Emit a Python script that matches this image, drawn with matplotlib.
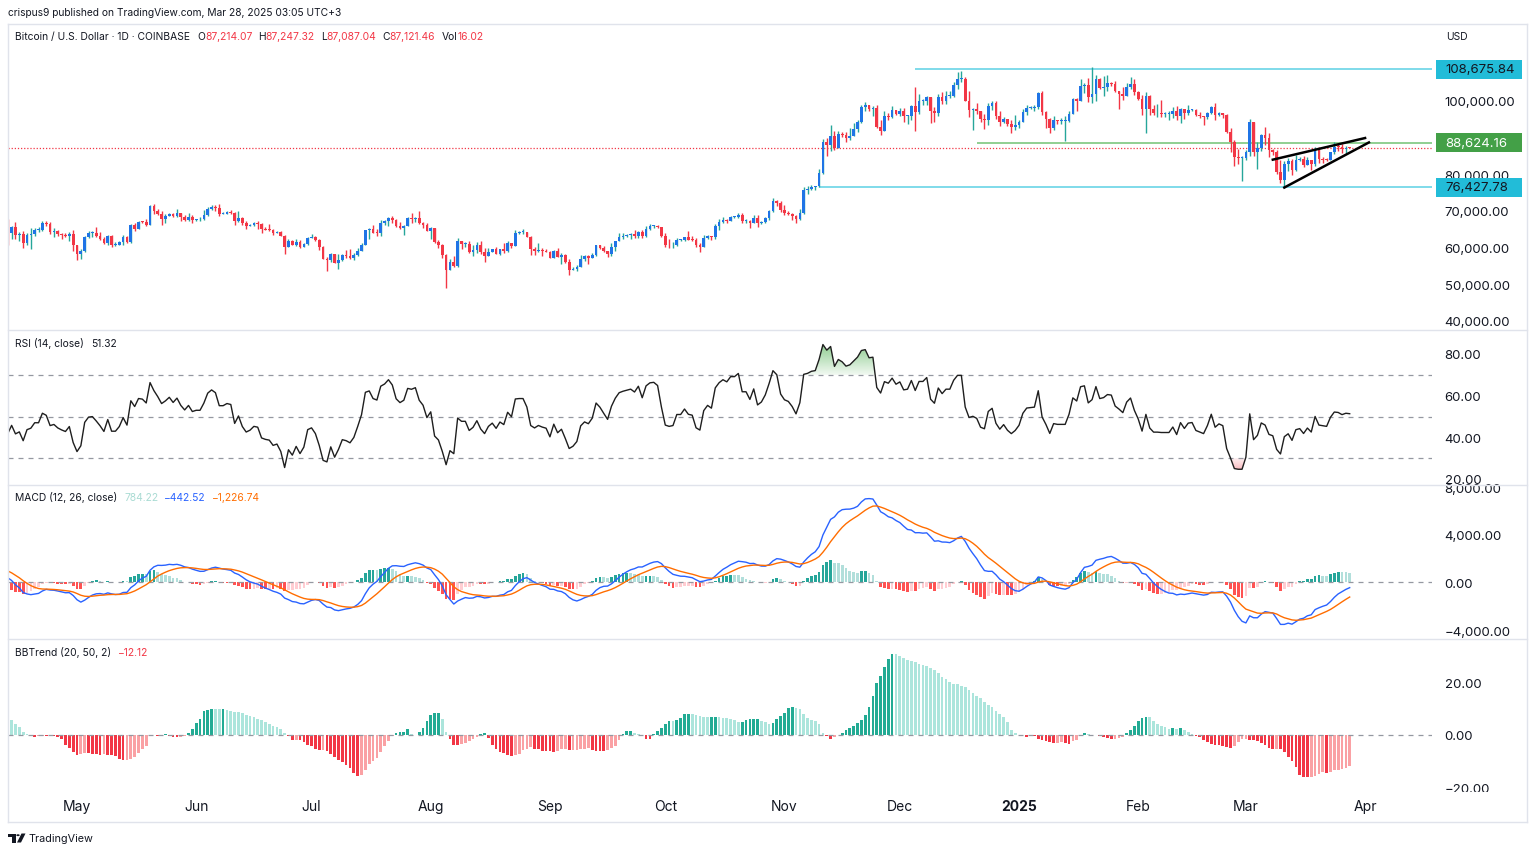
import numpy as np
import pandas as pd
import matplotlib
matplotlib.use("Agg")
import matplotlib.pyplot as plt
from matplotlib import transforms
from matplotlib.patches import Rectangle, Circle, Polygon
from matplotlib.lines import Line2D
from matplotlib.ticker import FuncFormatter
from matplotlib.colors import LinearSegmentedColormap

plt.rcParams['font.family'] = ['Inter', 'DejaVu Sans']

# ---------------- data (thousands of USD) ----------------
# closes 2024-02-20 .. 2024-04-12, only used to warm up the indicators
warmup_close = [52.3, 51.9, 51.3, 50.7, 51.6, 51.7, 54.5, 57.1, 62.5, 61.2,
                62.4, 62.0, 63.1, 68.3, 63.8, 66.1, 66.9, 68.3, 68.5, 69.0, 72.1, 71.5, 73.1, 71.4, 69.5, 65.3,
                68.4, 67.6, 62.0, 67.9, 65.5, 63.8, 64.0, 67.2, 69.9, 69.9, 69.4, 70.7, 69.9, 69.6, 71.3,
                69.7, 65.5, 65.9, 68.5, 67.8, 68.9, 69.4, 71.6, 69.1, 70.6, 70.0, 67.1]

# daily candles 2024-04-13 .. 2025-03-28 (open = previous close)
close_k = [
    # Apr 13-30
    64.0, 65.7, 63.4, 63.8, 61.3, 63.5, 63.8, 64.9, 64.9, 66.8, 66.4, 64.3, 64.5, 63.8, 63.4, 63.1, 63.8, 60.6,
    # May
    58.3, 59.1, 62.9, 63.9, 64.0, 63.2, 62.3, 61.2, 63.1, 60.8, 60.8, 61.5, 62.9, 61.6, 66.2, 65.2, 67.0, 66.9,
    66.3, 71.4, 70.1, 69.1, 67.9, 68.5, 69.3, 68.5, 69.4, 68.3, 67.6, 68.4, 67.5,
    # Jun
    67.7, 67.7, 68.8, 70.5, 71.1, 70.8, 69.3, 69.3, 69.6, 69.5, 67.3, 68.2, 66.8, 66.0, 66.2, 66.6, 66.5, 65.1,
    64.9, 64.8, 64.1, 64.2, 63.2, 60.3, 61.8, 60.8, 61.6, 60.3, 60.9, 62.7,
    # Jul
    62.9, 62.1, 60.2, 57.0, 56.6, 58.2, 55.8, 56.7, 57.9, 57.7, 57.3, 57.9, 59.2, 60.8, 64.8, 65.1, 64.1, 63.9,
    66.7, 67.2, 68.2, 67.6, 65.9, 65.4, 65.8, 68.0, 67.9, 68.2, 66.8, 66.2, 64.6,
    # Aug
    65.4, 61.5, 60.7, 58.1, 54.0, 56.0, 55.1, 61.7, 60.9, 60.9, 58.7, 59.3, 60.6, 58.7, 57.6, 58.9, 59.5, 58.4,
    59.5, 59.0, 61.2, 60.4, 64.1, 64.2, 64.2, 62.9, 59.5, 59.0, 59.4, 59.1, 58.9,
    # Sep
    57.3, 59.1, 57.5, 58.0, 56.2, 53.9, 54.2, 54.8, 57.0, 57.6, 57.3, 58.1, 60.6, 60.0, 59.1, 58.2, 60.3, 61.8,
    62.9, 63.2, 63.4, 63.6, 63.3, 64.3, 63.1, 65.2, 65.8, 65.9, 65.6, 63.3,
    # Oct
    60.8, 60.6, 60.7, 62.1, 62.1, 62.8, 62.2, 62.1, 60.6, 60.3, 62.5, 63.2, 62.9, 66.0, 67.0, 67.6, 67.4, 68.4,
    68.4, 69.0, 67.4, 67.4, 66.7, 68.2, 66.6, 67.0, 68.0, 69.9, 72.7, 72.3, 70.2,
    # Nov
    69.5, 69.3, 68.7, 67.8, 69.4, 75.6, 75.9, 76.5, 76.7, 80.4, 88.7, 87.9, 90.4, 87.3, 91.0, 90.6, 89.9, 90.5,
    92.3, 94.3, 98.3, 98.9, 97.7, 98.0, 93.0, 91.9, 95.9, 95.6, 97.5, 96.4,
    # Dec
    97.2, 95.8, 96.0, 98.7, 97.0, 99.9, 99.9, 101.2, 97.4, 96.6, 101.1, 100.0, 101.4, 101.4, 104.3, 106.1,
    106.1, 100.1, 97.5, 97.8, 97.3, 95.1, 94.7, 98.6, 99.4, 95.8, 94.2, 95.2, 93.7, 92.8, 93.4,
    # Jan 2025
    94.4, 96.9, 98.1, 98.2, 98.3, 102.2, 96.9, 95.0, 92.5, 94.7, 94.5, 94.5, 94.5, 96.5, 100.5, 99.9, 104.1,
    104.4, 101.1, 102.0, 106.1, 103.6, 103.9, 104.8, 104.7, 102.6, 102.0, 101.3, 103.7, 104.7, 102.4,
    # Feb
    100.6, 97.7, 101.4, 97.8, 96.6, 96.6, 96.5, 96.5, 96.5, 97.4, 95.8, 97.8, 96.6, 97.5, 97.6, 96.1, 95.8,
    95.5, 96.6, 98.3, 96.1, 96.6, 96.3, 91.5, 88.7, 84.7, 84.4, 84.4,
    # Mar
    86.0, 94.3, 86.1, 87.2, 90.6, 89.9, 86.7, 86.2, 80.7, 78.5, 82.9, 83.7, 81.1, 84.0, 84.3, 82.6, 84.0,
    82.7, 86.9, 84.2, 84.0, 83.8, 86.1, 87.5, 87.4, 86.9, 87.214, 87.121,
]
high_k = [
    67.9, 65.8, 66.9, 64.4, 64.5, 64.0, 65.4, 65.4, 65.7, 67.2, 67.2, 67.1, 65.3, 64.8, 63.9, 64.0, 64.2, 64.7,
    60.8, 59.6, 63.3, 64.5, 64.5, 65.5, 64.4, 62.9, 63.4, 63.5, 61.5, 61.8, 63.4, 63.1, 66.4, 66.7, 67.4, 67.4,
    67.7, 71.5, 71.9, 70.6, 70.0, 69.2, 69.5, 69.5, 70.6, 69.5, 68.9, 69.5, 69.0,
    67.8, 68.4, 70.2, 71.0, 71.7, 71.6, 71.9, 69.6, 69.9, 70.2, 69.6, 70.0, 68.4, 67.3, 66.4, 66.9, 67.2, 66.6,
    65.7, 66.5, 65.0, 64.5, 64.5, 63.4, 62.4, 62.1, 62.3, 62.2, 61.2, 63.0,
    63.8, 63.2, 62.3, 60.5, 57.5, 58.5, 58.3, 58.2, 58.3, 59.4, 59.5, 58.5, 59.8, 61.4, 64.9, 65.4, 66.1, 65.1,
    67.5, 67.6, 68.4, 68.5, 67.8, 67.1, 66.1, 68.3, 69.4, 68.3, 70.0, 66.9, 66.8,
    65.6, 65.0, 62.2, 61.1, 58.3, 57.0, 57.7, 62.7, 61.8, 61.5, 61.8, 60.7, 61.6, 61.8, 59.8, 59.8, 59.6, 60.2,
    59.6, 61.4, 61.8, 61.4, 64.9, 64.5, 65.0, 64.4, 63.2, 60.2, 61.2, 59.9, 59.5,
    59.0, 59.4, 59.8, 58.5, 58.3, 57.0, 54.8, 55.3, 58.1, 58.0, 57.9, 58.6, 60.6, 60.6, 60.4, 59.2, 61.3, 61.8,
    64.0, 64.1, 63.6, 64.0, 64.7, 64.5, 64.8, 65.8, 66.5, 66.3, 66.1, 65.6,
    64.1, 62.4, 61.5, 62.5, 62.4, 62.9, 64.5, 63.2, 62.5, 61.3, 63.4, 63.5, 63.3, 66.5, 67.9, 68.4, 67.9, 68.7,
    68.5, 69.4, 69.5, 67.8, 67.5, 68.8, 68.8, 67.4, 68.3, 70.3, 73.6, 72.9, 72.7,
    71.6, 69.9, 69.4, 69.0, 70.5, 76.5, 76.9, 77.2, 76.8, 81.5, 89.6, 89.9, 93.4, 91.8, 91.8, 91.5, 91.6, 92.6,
    94.0, 94.9, 98.9, 99.8, 98.8, 98.6, 98.9, 94.8, 97.2, 96.6, 98.7, 97.5,
    98.0, 98.2, 96.3, 99.0, 103.9, 101.9, 100.5, 101.4, 101.2, 98.3, 101.9, 102.5, 102.6, 102.6, 105.2, 107.8,
    108.3, 106.5, 102.8, 98.2, 99.5, 97.4, 96.4, 99.4, 99.9, 99.9, 97.3, 95.6, 95.2, 94.9, 96.1,
    94.9, 97.8, 98.9, 98.7, 98.8, 102.5, 102.7, 97.2, 95.3, 95.8, 94.9, 95.3, 95.9, 97.3, 100.7, 100.8, 105.9,
    104.9, 106.3, 109.3, 107.1, 106.4, 106.8, 107.1, 105.3, 105.5, 102.5, 103.8, 104.8, 106.5, 106.0,
    102.8, 101.5, 102.5, 101.7, 99.0, 99.2, 100.2, 96.9, 97.3, 98.3, 98.5, 98.1, 97.3, 98.8, 97.9, 97.7, 97.0,
    96.0, 96.9, 98.7, 99.5, 96.9, 96.7, 96.5, 92.5, 89.3, 87.0, 85.1,
    86.6, 95.0, 94.4, 88.9, 91.0, 92.8, 91.2, 86.9, 86.5, 84.0, 83.6, 84.4, 84.2, 85.3, 84.7, 85.1, 84.7,
    84.0, 87.4, 87.4, 84.8, 84.5, 86.2, 88.8, 88.5, 88.3, 87.8, 87.247,
]
low_k = [
    60.7, 62.3, 62.3, 61.7, 59.8, 60.8, 59.6, 63.1, 64.3, 64.5, 65.8, 63.6, 62.8, 63.3, 62.4, 62.8, 61.8, 59.2,
    56.6, 56.9, 58.8, 62.7, 62.9, 62.8, 62.1, 60.9, 60.7, 60.2, 60.5, 60.6, 60.8, 61.2, 61.4, 64.6, 65.1, 66.6,
    65.9, 66.1, 69.2, 68.9, 66.3, 66.6, 68.5, 68.3, 68.3, 67.3, 67.2, 67.2, 66.7,
    67.4, 67.3, 67.6, 68.5, 70.2, 70.1, 68.5, 69.1, 69.1, 69.2, 66.1, 66.9, 66.3, 65.1, 65.9, 66.0, 65.1, 64.1,
    64.7, 64.6, 63.4, 63.9, 63.2, 58.4, 60.6, 60.6, 60.5, 60.0, 60.3, 60.6,
    62.5, 61.8, 59.4, 56.8, 53.5, 56.0, 55.7, 54.3, 56.3, 57.2, 57.0, 56.6, 57.8, 59.3, 60.7, 62.4, 63.9, 63.3,
    63.3, 66.3, 65.8, 66.6, 65.5, 65.1, 63.4, 65.8, 66.7, 67.0, 66.5, 65.3, 64.5,
    62.3, 61.2, 59.8, 57.2, 49.1, 54.1, 54.6, 54.8, 59.6, 60.3, 58.5, 57.7, 58.5, 58.4, 56.2, 57.8, 58.8, 58.3,
    57.9, 58.6, 58.8, 59.8, 60.4, 63.6, 63.8, 62.8, 58.1, 57.9, 58.8, 57.8, 58.7,
    57.2, 57.1, 57.4, 55.6, 55.7, 52.6, 53.8, 53.7, 54.6, 56.4, 55.6, 57.3, 57.6, 59.5, 58.7, 57.5, 57.6, 59.2,
    61.7, 62.4, 62.8, 62.4, 62.7, 62.7, 62.7, 62.9, 64.9, 65.4, 65.4, 62.9,
    60.2, 60.0, 59.9, 60.5, 61.7, 61.8, 62.1, 61.9, 60.3, 58.9, 60.4, 62.4, 62.0, 62.4, 64.8, 66.7, 66.7, 67.2,
    68.0, 68.1, 66.6, 66.6, 65.3, 66.6, 65.5, 66.5, 66.8, 67.5, 69.7, 71.4, 69.7,
    68.8, 68.8, 67.5, 66.8, 67.5, 69.3, 74.5, 75.6, 75.8, 76.5, 80.2, 85.1, 86.3, 86.7, 87.1, 90.1, 88.8, 89.4,
    90.9, 91.5, 94.1, 97.2, 97.3, 95.8, 92.6, 90.8, 91.8, 94.7, 95.4, 96.2,
    95.8, 94.4, 93.6, 94.7, 91.9, 96.5, 98.9, 98.8, 94.1, 94.3, 95.8, 99.3, 99.2, 100.7, 101.2, 103.3,
    105.3, 100.0, 95.7, 92.2, 96.4, 94.2, 92.4, 93.4, 97.6, 95.2, 93.3, 94.0, 93.3, 91.3, 92.0,
    92.7, 94.2, 96.1, 97.7, 97.3, 97.9, 96.1, 92.5, 91.2, 92.2, 93.8, 93.7, 89.2, 94.3, 96.4, 97.3, 99.9,
    102.3, 99.6, 99.5, 100.1, 103.3, 101.3, 102.8, 104.1, 102.5, 97.8, 100.3, 101.3, 103.3, 101.6,
    100.3, 96.2, 91.2, 96.2, 96.2, 95.7, 95.7, 95.7, 94.7, 95.3, 94.9, 94.1, 95.2, 96.3, 97.2, 96.0, 95.3,
    93.4, 95.0, 96.4, 94.9, 95.8, 95.3, 91.2, 86.0, 82.3, 82.8, 78.2,
    83.9, 85.1, 85.1, 81.5, 86.4, 87.9, 84.7, 85.3, 80.1, 77.5, 76.4, 80.9, 79.9, 80.8, 83.7, 82.0, 82.5,
    81.2, 82.4, 83.2, 83.2, 83.6, 83.8, 85.5, 86.3, 85.8, 85.9, 87.087,
]
first_day = "2024-04-13"
warmup_first_day = "2024-02-20"

# drawn levels and the rising wedge
level_prices = [108675.84, 88624.16, 76427.78]
level_starts = ["2024-12-05", "2024-12-21", "2024-11-10"]
level_kinds = ["cyan", "green", "cyan"]
last_price = 87121.46
wedge_upper = [("2025-03-08", 84000), ("2025-04-01", 89900)]
wedge_lower = [("2025-03-11", 76400), ("2025-04-02", 88700)]

month_starts = ["2024-05-01", "2024-06-01", "2024-07-01", "2024-08-01", "2024-09-01", "2024-10-01",
                "2024-11-01", "2024-12-01", "2025-01-01", "2025-02-01", "2025-03-01", "2025-04-01"]
month_labels = ["May", "Jun", "Jul", "Aug", "Sep", "Oct", "Nov", "Dec", "2025", "Feb", "Mar", "Apr"]

# ---------------- colours ----------------
txt = '#131722'
up_body = '#1f74e6'
up_wick = '#26a69a'
down_col = '#f23645'
cyan_line = '#7fdbea'
cyan_box = '#22bcd8'
green_line = '#8fcf92'
green_box = '#43a047'
frame = '#e0e3eb'
dash_col = '#9598a1'
hsize = 7.4   # pane legends

# ---------------- series ----------------
ref = pd.Timestamp("2024-05-01")
def dnum(d):
    return (pd.Timestamp(d) - ref).days

n_warm = len(warmup_close)
all_close = np.array(warmup_close + close_k) * 1000.0
all_x = np.arange(n_warm + len(close_k)) + dnum(warmup_first_day)
x = np.arange(len(close_k)) + dnum(first_day)

c = np.array(close_k) * 1000.0
o = all_close[n_warm - 1:-1]
h = np.maximum(np.array(high_k) * 1000.0, np.maximum(o, c))
l = np.minimum(np.array(low_k) * 1000.0, np.minimum(o, c))

s = pd.Series(all_close)
# RSI 14 (Wilder)
d = s.diff()
ag = d.clip(lower=0).ewm(alpha=1 / 14, adjust=False).mean()
al = (-d.clip(upper=0)).ewm(alpha=1 / 14, adjust=False).mean()
rsi = (100 - 100 / (1 + ag / al)).values
# MACD 12 26 9
macd = (s.ewm(span=12, adjust=False).mean() - s.ewm(span=26, adjust=False).mean())
signal = macd.ewm(span=9, adjust=False).mean()
hist = (macd - signal).values
macd = macd.values
signal = signal.values
# BBTrend 20 50 2
sm, ssd = s.rolling(20).mean(), s.rolling(20).std(ddof=0)
lm, lsd = s.rolling(50).mean(), s.rolling(50).std(ddof=0)
bbt = ((np.abs((sm - 2 * ssd) - (lm - 2 * lsd)) - np.abs((sm + 2 * ssd) - (lm + 2 * lsd))) / sm * 100).values

# ---------------- figure ----------------
W, H = 1536, 854
fig = plt.figure(figsize=(W / 100, H / 100), dpi=100)
fig.patch.set_facecolor('white')

def fx(px):
    return px / W

def fy(py):
    return 1 - py / H

XLIM = (-69 / 3.845, 1355 / 3.845)

def pane(top, bottom, left=8, right=1432):
    a = fig.add_axes([fx(left), fy(bottom), fx(right) - fx(left), fy(top) - fy(bottom)])
    for sp in a.spines.values():
        sp.set_visible(False)
    a.set_facecolor('none')
    a.set_xlim(*XLIM)
    a.tick_params(axis='x', bottom=False, labelbottom=False)
    a.yaxis.tick_right()
    a.tick_params(axis='y', length=0, pad=9, labelsize=9.5, labelcolor=txt)
    return a

def fmt(v, _=None):
    return f"{v:,.2f}".replace('-', '\u2212')

ax_p = pane(25, 330)
ax_r = pane(331, 485)
ax_m = pane(486, 639)
ax_b = pane(640, 793)

# price pane
ax_p.set_ylim(37818, 121000)
ax_p.set_yticks([40000, 50000, 60000, 70000, 80000, 90000, 100000, 110000])
ax_p.yaxis.set_major_formatter(FuncFormatter(fmt))
up = c >= o
ax_p.vlines(x[up], l[up], h[up], color=up_wick, lw=1, zorder=2)
ax_p.vlines(x[~up], l[~up], h[~up], color=down_col, lw=1, zorder=2)
body = np.maximum(np.abs(c - o), 250)
ax_p.bar(x, body, bottom=np.minimum(o, c), width=0.7,
         color=np.where(up, up_body, down_col), linewidth=0, zorder=3)
ax_p.axhline(last_price, color=down_col, lw=0.9, ls=(0, (1, 1.5)), zorder=1)

xr = XLIM[1]
for p, st, kind in zip(level_prices, level_starts, level_kinds):
    col = cyan_line if kind == "cyan" else green_line
    ax_p.plot([dnum(st), xr], [p, p], color=col, lw=1.4, zorder=1.5, solid_capstyle='butt')
for pts in (wedge_upper, wedge_lower):
    ax_p.plot([dnum(pts[0][0]), dnum(pts[1][0])], [pts[0][1], pts[1][1]], color='black', lw=1.8, zorder=4)

# boxes on the price scale
bt = transforms.blended_transform_factory(fig.transFigure, ax_p.transData)
px_per_usd = 305 / (121000 - 37818)
for p, kind in zip(level_prices, level_kinds):
    fc = cyan_box if kind == "cyan" else green_box
    tc = txt if kind == "cyan" else 'white'
    hh = 9.5 / px_per_usd
    ax_p.add_patch(Rectangle((fx(1436), p - hh), fx(1522) - fx(1436), 2 * hh, transform=bt,
                             facecolor=fc, edgecolor='none', clip_on=False, zorder=6))
    ax_p.text(fx(1445), p, fmt(p), transform=bt, color=tc, fontsize=9.5, va='center', ha='left',
              clip_on=False, zorder=7)

# RSI pane
ax_r.set_yticks([20, 40, 60, 80])
ax_r.yaxis.set_major_formatter(FuncFormatter(fmt))
for lv in (70, 50, 30):
    ax_r.axhline(lv, color=dash_col, lw=0.9, ls=(0, (4, 4)))

def gradient_fill(ax, yb, where, rgb, a_edge, a_far, far):
    poly = ax.fill_between(all_x, yb, rsi, where=where, interpolate=True, color='none', lw=0)
    grad = np.linspace(0, 1, 64).reshape(-1, 1)
    cmap = LinearSegmentedColormap.from_list('g', [(*rgb, a_edge), (*rgb, a_far)])
    lo, hi = (yb, far) if far > yb else (far, yb)
    img = ax.imshow(grad if far > yb else grad[::-1], extent=[all_x[0], all_x[-1], lo, hi], origin='lower',
                    aspect='auto', cmap=cmap, zorder=1, interpolation='bilinear')
    for path in poly.get_paths():
        img.set_clip_path(path, transform=ax.transData)

gradient_fill(ax_r, 70, rsi > 70, (0.30, 0.69, 0.31), 0.08, 0.75, 88)
gradient_fill(ax_r, 30, rsi < 30, (0.95, 0.21, 0.27), 0.08, 0.45, 22)
ax_r.plot(all_x, rsi, color='#1e1e1e', lw=1.0, zorder=3)
ax_r.set_xlim(*XLIM)
ax_r.set_ylim(17.6, 91.52)

# MACD pane
ax_m.set_ylim(-4671, 8168)
ax_m.set_yticks([-4000, 0, 4000, 8000])
ax_m.yaxis.set_major_formatter(FuncFormatter(fmt))
ax_m.axhline(0, color=dash_col, lw=0.9, ls=(0, (4, 4)))
prev = np.r_[np.nan, hist[:-1]]
hcol = np.where(hist >= 0, np.where(hist > prev, '#26a69a', '#b2dfdb'),
                np.where(hist > prev, '#ffcdd2', '#ff5252'))
ax_m.bar(all_x, hist, width=0.7, color=hcol, linewidth=0)
ax_m.plot(all_x, macd, color='#2962ff', lw=1.0)
ax_m.plot(all_x, signal, color='#ff6d00', lw=1.0)

# BBTrend pane
ax_b.set_ylim(-21.9, 36.38)
ax_b.set_yticks([-20, 0, 20])
ax_b.yaxis.set_major_formatter(FuncFormatter(fmt))
ax_b.axhline(0, color=dash_col, lw=0.9, ls=(0, (4, 4)))
bprev = np.r_[np.nan, bbt[:-1]]
bcol = np.where(bbt >= 0, np.where(bbt > bprev, '#22ab94', '#ace5dc'),
                np.where(bbt < bprev, '#f23645', '#faa1a4'))
ax_b.bar(all_x, np.nan_to_num(bbt), width=0.7, color=bcol, linewidth=0)

# time scale (covers the bottom of the BBTrend pane like the original)
fig.add_artist(Rectangle((fx(8.5), fy(822)), fx(1526.5) - fx(8.5), fy(793) - fy(822),
                         transform=fig.transFigure, facecolor='white', edgecolor='none', zorder=10))
ax_t = pane(793, 822)
ax_t.set_zorder(11)
ax_t.set_yticks([])
ax_t.set_ylim(0, 1)
for ms, lab in zip(month_starts, month_labels):
    ax_t.text(dnum(ms), 0.5, lab, ha='center', va='center', fontsize=10, color=txt,
              fontweight='bold' if lab == "2025" else 'normal')

# frame and pane separators
def hline(py, x0=8, x1=1527):
    fig.add_artist(Line2D([fx(x0), fx(x1)], [fy(py), fy(py)], color=frame, lw=1, zorder=12))

def vline(px, y0=25, y1=823):
    fig.add_artist(Line2D([fx(px), fx(px)], [fy(y0), fy(y1)], color=frame, lw=1, zorder=12))

for py in (25, 330.5, 485.5, 639.5, 823):
    hline(py)
vline(8)
vline(1527)

# ---------------- texts ----------------
renderer = fig.canvas.get_renderer()

def parts_line(x0, y0, parts, size=hsize):
    xx = x0
    for text, col, gap in parts:
        t = fig.text(fx(xx), fy(y0), text, color=col, fontsize=size, va='center', ha='left', zorder=13)
        xx += t.get_window_extent(renderer).width + gap

parts_line(8, 13, [("crispus9 published on TradingView.com, Mar 28, 2025 03:05 UTC+3", txt, 0)], 7.35)
parts_line(15, 37, [("Bitcoin / U.S. Dollar \u00b7 1D \u00b7 COINBASE", txt, 7),
                    ("O", txt, 0), ("87,214.07", down_col, 6),
                    ("H", txt, 0), ("87,247.32", down_col, 6),
                    ("L", txt, 0), ("87,087.04", down_col, 6),
                    ("C", txt, 0), ("87,121.46", down_col, 6),
                    ("Vol", txt, 0), ("16.02", down_col, 0)])
parts_line(1446, 37, [("USD", txt, 0)])
parts_line(15, 344, [("RSI (14, close)", txt, 7), ("51.32", txt, 0)])
parts_line(15, 498, [("MACD (12, 26, close)", txt, 7), ("784.22", '#a9dbd3', 6),
                     ("\u2212442.52", '#2962ff', 6), ("\u22121,226.74", '#ff6d00', 0)])
parts_line(15, 653, [("BBTrend (20, 50, 2)", txt, 7), ("\u221212.12", down_col, 0)])

# TradingView logo
fig.add_artist(Polygon([[fx(8), fy(834.5)], [fx(15.5), fy(834.5)], [fx(15.5), fy(843.5)], [fx(12.3), fy(843.5)],
                        [fx(12.3), fy(837.8)], [fx(8), fy(837.8)]], closed=True, transform=fig.transFigure,
                       facecolor=txt, edgecolor='none', zorder=13))
fig.add_artist(Circle((fx(18), fy(836.2)), 1.7 / W, transform=fig.transFigure, facecolor=txt,
                      edgecolor='none', zorder=13))
fig.add_artist(Polygon([[fx(21.5), fy(834.5)], [fx(25.5), fy(834.5)], [fx(21), fy(843.5)], [fx(17), fy(843.5)]],
                       closed=True, transform=fig.transFigure, facecolor=txt, edgecolor='none', zorder=13))
parts_line(28, 839, [("TradingView", txt, 0)], 7.8)

fig.savefig("out.png", dpi=100, facecolor='white')
